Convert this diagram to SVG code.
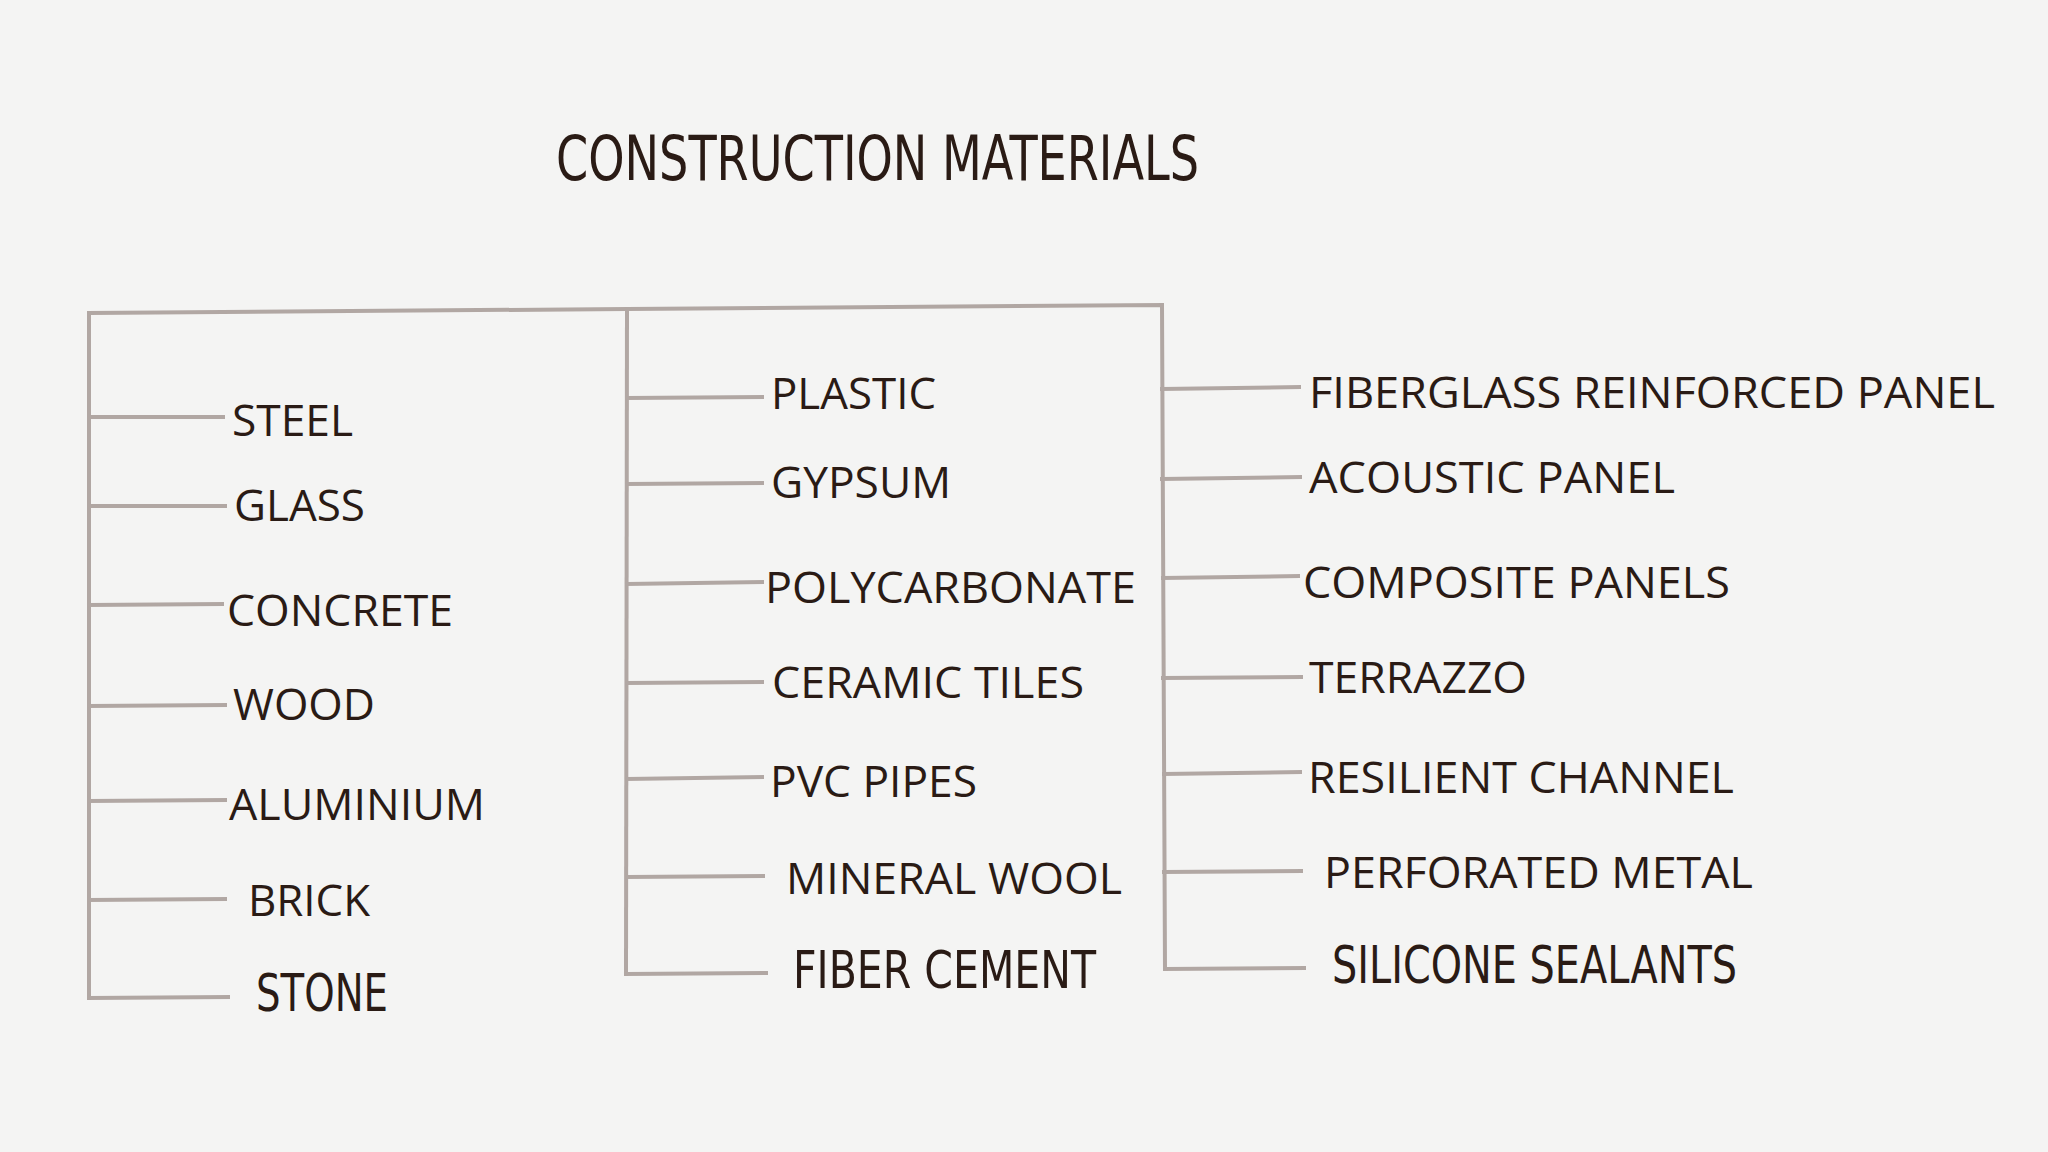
<svg xmlns="http://www.w3.org/2000/svg" width="2048" height="1152" viewBox="0 0 2048 1152">
<style>
.bg{fill:#f4f4f3}
.ln{stroke:#b1a7a3;stroke-width:4;fill:none;stroke-linecap:square}
.lb{font-family:"Open Sans","Noto Sans","Liberation Sans",sans-serif;font-size:44px;fill:#2a1b15}
.cd{font-family:"DejaVu Sans Condensed","DejaVu Sans","Liberation Sans Narrow",sans-serif;font-stretch:condensed;fill:#2a1b15}
</style>
<rect class="bg" x="0" y="0" width="2048" height="1152"/>
<g id="title"><text class="cd" x="556" y="180" font-size="63" textLength="643" lengthAdjust="spacingAndGlyphs">CONSTRUCTION MATERIALS</text></g>
<g id="connectors">
<polyline class="ln" points="89,998 89,313 627,309 1162,305 1165,969"/>
<line class="ln" x1="627" y1="309" x2="626" y2="974"/>
<line class="ln" x1="89" y1="417" x2="223" y2="417"/>
<line class="ln" x1="89" y1="506" x2="225" y2="506"/>
<line class="ln" x1="89" y1="605" x2="222" y2="604"/>
<line class="ln" x1="89" y1="706" x2="225" y2="705"/>
<line class="ln" x1="89" y1="801" x2="225" y2="800"/>
<line class="ln" x1="89" y1="900" x2="225" y2="899"/>
<line class="ln" x1="89" y1="998" x2="228" y2="997"/>
<line class="ln" x1="627" y1="398" x2="762" y2="397"/>
<line class="ln" x1="627" y1="484" x2="762" y2="483"/>
<line class="ln" x1="627" y1="584" x2="762" y2="582"/>
<line class="ln" x1="627" y1="683" x2="762" y2="682"/>
<line class="ln" x1="627" y1="779" x2="762" y2="777"/>
<line class="ln" x1="627" y1="877" x2="763" y2="876"/>
<line class="ln" x1="626" y1="974" x2="766" y2="973"/>
<line class="ln" x1="1162" y1="389" x2="1299" y2="387"/>
<line class="ln" x1="1162" y1="479" x2="1300" y2="477"/>
<line class="ln" x1="1163" y1="578" x2="1298" y2="576"/>
<line class="ln" x1="1163" y1="678" x2="1301" y2="677"/>
<line class="ln" x1="1164" y1="774" x2="1300" y2="772"/>
<line class="ln" x1="1164" y1="872" x2="1301" y2="871"/>
<line class="ln" x1="1165" y1="969" x2="1304" y2="968"/>
</g>
<g id="steel"><text class="lb" x="232" y="436" textLength="121" lengthAdjust="spacingAndGlyphs">STEEL</text></g>
<g id="glass"><text class="lb" x="234" y="521" textLength="131" lengthAdjust="spacingAndGlyphs">GLASS</text></g>
<g id="concrete"><text class="lb" x="227" y="626" textLength="226" lengthAdjust="spacingAndGlyphs">CONCRETE</text></g>
<g id="wood"><text class="lb" x="233" y="720" textLength="142" lengthAdjust="spacingAndGlyphs">WOOD</text></g>
<g id="aluminium"><text class="lb" x="229" y="820" textLength="256" lengthAdjust="spacingAndGlyphs">ALUMINIUM</text></g>
<g id="brick"><text class="lb" x="248" y="916" textLength="122" lengthAdjust="spacingAndGlyphs">BRICK</text></g>
<g id="stone"><text class="cd" x="256" y="1011" font-size="51" textLength="132" lengthAdjust="spacingAndGlyphs">STONE</text></g>
<g id="plastic"><text class="lb" x="771" y="409" textLength="165" lengthAdjust="spacingAndGlyphs">PLASTIC</text></g>
<g id="gypsum"><text class="lb" x="771" y="498" textLength="180" lengthAdjust="spacingAndGlyphs">GYPSUM</text></g>
<g id="polycarbonate"><text class="lb" x="765" y="603" textLength="371" lengthAdjust="spacingAndGlyphs">POLYCARBONATE</text></g>
<g id="ceramic-tiles"><text class="lb" x="772" y="698" textLength="312" lengthAdjust="spacingAndGlyphs">CERAMIC TILES</text></g>
<g id="pvc-pipes"><text class="lb" x="770" y="797" textLength="207" lengthAdjust="spacingAndGlyphs">PVC PIPES</text></g>
<g id="mineral-wool"><text class="lb" x="786" y="894" textLength="336" lengthAdjust="spacingAndGlyphs">MINERAL WOOL</text></g>
<g id="fiber-cement"><text class="cd" x="793" y="988" font-size="52" textLength="303" lengthAdjust="spacingAndGlyphs">FIBER CEMENT</text></g>
<g id="fiberglass"><text class="lb" x="1309" y="408" textLength="686" lengthAdjust="spacingAndGlyphs">FIBERGLASS REINFORCED PANEL</text></g>
<g id="acoustic-panel"><text class="lb" x="1309" y="493" textLength="366" lengthAdjust="spacingAndGlyphs">ACOUSTIC PANEL</text></g>
<g id="composite-panels"><text class="lb" x="1303" y="598" textLength="427" lengthAdjust="spacingAndGlyphs">COMPOSITE PANELS</text></g>
<g id="terrazzo"><text class="lb" x="1309" y="693" textLength="218" lengthAdjust="spacingAndGlyphs">TERRAZZO</text></g>
<g id="resilient-channel"><text class="lb" x="1308" y="793" textLength="426" lengthAdjust="spacingAndGlyphs">RESILIENT CHANNEL</text></g>
<g id="perforated-metal"><text class="lb" x="1324" y="888" textLength="429" lengthAdjust="spacingAndGlyphs">PERFORATED METAL</text></g>
<g id="silicone-sealants"><text class="cd" x="1332" y="983" font-size="51" textLength="405" lengthAdjust="spacingAndGlyphs">SILICONE SEALANTS</text></g>
</svg>
